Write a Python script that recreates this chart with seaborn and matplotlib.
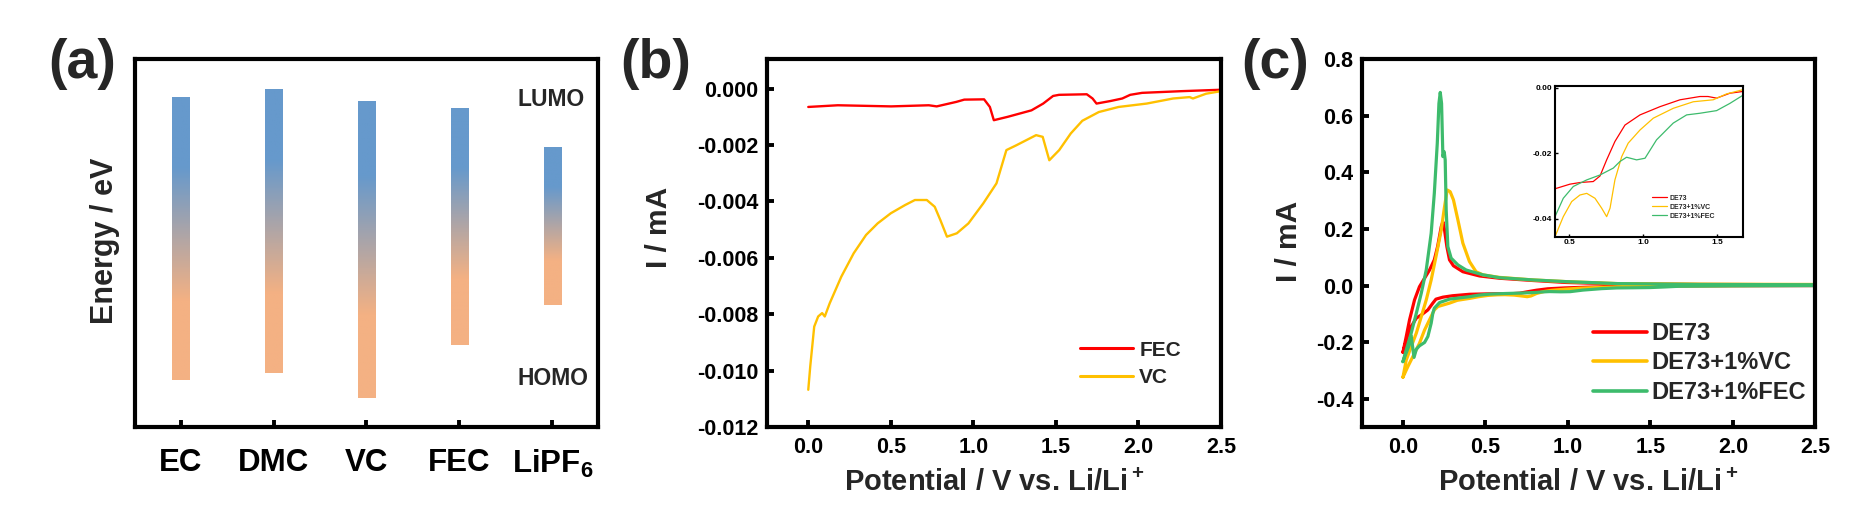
import numpy as np
import pandas as pd
import matplotlib
matplotlib.use('Agg')
import matplotlib.pyplot as plt
import seaborn as sns
from matplotlib.colors import LinearSegmentedColormap

sns.set_style('ticks')
plt.rcParams['font.family'] = ['Liberation Sans', 'DejaVu Sans']
plt.rcParams['font.weight'] = 'bold'
plt.rcParams['axes.labelweight'] = 'bold'
plt.rcParams['axes.edgecolor'] = 'black'
plt.rcParams['xtick.color'] = 'black'
plt.rcParams['ytick.color'] = 'black'
plt.rcParams['mathtext.fontset'] = 'custom'
plt.rcParams['mathtext.rm'] = 'Liberation Sans:bold'
plt.rcParams['mathtext.it'] = 'Liberation Sans:bold'
plt.rcParams['mathtext.bf'] = 'Liberation Sans:bold'
plt.rcParams['mathtext.default'] = 'rm'

# ---- (a) HOMO / LUMO levels (eV) ----
molecules = ['EC', 'DMC', 'VC', 'FEC', 'LiPF$_6$']
lumo = [1.67, 1.95, 1.53, 1.28, -0.10]
homo = [-8.34, -8.08, -8.97, -7.09, -5.68]

# ---- (b) LSV ----
fec_v = [0.0, 0.179, 0.502, 0.730, 0.778, 0.897, 0.945, 1.065, 1.10, 1.124, 1.208, 1.352, 1.423,
         1.483, 1.519, 1.687, 1.722, 1.746, 1.830, 1.902, 1.950, 2.022, 2.261, 2.5]
fec_i = [-0.00065, -0.00059, -0.00063, -0.00059, -0.00063, -0.00047, -0.00039, -0.00038, -0.00065,
         -0.00112, -0.00100, -0.00077, -0.00053, -0.00026, -0.00022, -0.00020, -0.00035, -0.00053,
         -0.00044, -0.00035, -0.00022, -0.00015, -0.00009, -0.00004]
vc_v = [0.0, 0.012, 0.036, 0.06, 0.084, 0.10, 0.13, 0.20, 0.275, 0.35, 0.42, 0.50, 0.586, 0.646,
        0.718, 0.766, 0.80, 0.84, 0.90, 0.97, 1.06, 1.14, 1.17, 1.20, 1.26, 1.38, 1.42, 1.46, 1.52,
        1.59, 1.66, 1.76, 1.88, 2.05, 2.21, 2.31, 2.33, 2.41, 2.5]
vc_i = [-0.01068, -0.00985, -0.00844, -0.00808, -0.00796, -0.00808, -0.00761, -0.00667, -0.00584,
        -0.00519, -0.00478, -0.00442, -0.00413, -0.00395, -0.00395, -0.00419, -0.00466, -0.00525,
        -0.00513, -0.00478, -0.00407, -0.00336, -0.00277, -0.00218, -0.00201, -0.00165, -0.00171,
        -0.00254, -0.00218, -0.00159, -0.00114, -0.00083, -0.00065, -0.00053, -0.00035, -0.00030,
        -0.00035, -0.00018, -0.00009]

# ---- (c) CV, anodic sweep then cathodic sweep ----
de73_v = [0.0, 0.02, 0.04, 0.07, 0.10, 0.131, 0.161, 0.19, 0.21, 0.232, 0.242, 0.252, 0.266, 0.282,
          0.306, 0.363, 0.464, 0.584, 0.786, 0.988, 1.28, 1.8, 2.5,
          2.5, 2.0, 1.67, 1.588, 1.498, 1.44, 1.385, 1.25, 1.114, 0.979, 0.877, 0.809, 0.753, 0.708,
          0.662, 0.572, 0.504, 0.403, 0.30, 0.242, 0.20, 0.181, 0.151, 0.111, 0.081, 0.05, 0.024, 0.0]
de73_i = [-0.236, -0.18, -0.121, -0.051, -0.004, 0.026, 0.055, 0.091, 0.138, 0.208, 0.226, 0.197,
          0.138, 0.091, 0.07, 0.049, 0.034, 0.026, 0.018, 0.011, 0.006, 0.004, 0.003,
          0.0, -0.0005, -0.0012, -0.0017, -0.0032, -0.0027, -0.0027, -0.0037, -0.0058, -0.0083,
          -0.0114, -0.0164, -0.022, -0.0269, -0.0286, -0.0289, -0.0294, -0.0308, -0.036, -0.041,
          -0.048, -0.062, -0.086, -0.104, -0.115, -0.145, -0.186, -0.236]
vc1_v = [0.0, 0.02, 0.05, 0.081, 0.111, 0.141, 0.171, 0.20, 0.232, 0.252, 0.268, 0.286, 0.306, 0.333,
         0.363, 0.403, 0.443, 0.484, 0.584, 0.786, 0.988, 1.3, 1.8, 2.5,
         2.5, 2.0, 1.67, 1.566, 1.475, 1.34, 1.204, 1.069, 0.979, 0.899, 0.855, 0.809, 0.776, 0.753,
         0.719, 0.674, 0.618, 0.572, 0.516, 0.459, 0.403, 0.33, 0.282, 0.212, 0.19, 0.161, 0.131,
         0.10, 0.06, 0.03, 0.0]
vc1_i = [-0.324, -0.263, -0.216, -0.168, -0.11, -0.051, 0.02, 0.102, 0.197, 0.279, 0.338, 0.332,
         0.303, 0.232, 0.15, 0.085, 0.049, 0.038, 0.029, 0.02, 0.014, 0.007, 0.005, 0.004,
         0.001, 0.0, -0.0007, -0.0019, -0.0037, -0.0043, -0.0063, -0.0093, -0.0129, -0.0169, -0.021,
         -0.0281, -0.0367, -0.0393, -0.0367, -0.0337, -0.0322, -0.0327, -0.0347, -0.0393, -0.0454,
         -0.052, -0.062, -0.074, -0.086, -0.121, -0.157, -0.204, -0.251, -0.286, -0.324]
fec1_v = [0.0, 0.02, 0.05, 0.081, 0.111, 0.141, 0.171, 0.19, 0.208, 0.218, 0.226, 0.234, 0.242, 0.25,
          0.256, 0.262, 0.272, 0.292, 0.333, 0.383, 0.484, 0.584, 0.786, 0.988, 1.3, 1.8, 2.5,
          2.5, 2.0, 1.67, 1.588, 1.498, 1.385, 1.295, 1.204, 1.091, 1.013, 0.956, 0.888, 0.843, 0.798,
          0.708, 0.618, 0.527, 0.459, 0.403, 0.35, 0.282, 0.222, 0.19, 0.181, 0.171, 0.151, 0.131,
          0.10, 0.081, 0.067, 0.05, 0.035, 0.015, 0.0]
fec1_i = [-0.269, -0.227, -0.168, -0.098, -0.027, 0.055, 0.185, 0.326, 0.503, 0.644, 0.683, 0.644,
          0.456, 0.473, 0.444, 0.267, 0.138, 0.097, 0.073, 0.055, 0.038, 0.028, 0.02, 0.014, 0.007,
          0.004, 0.003,
          0.0, -0.001, -0.0025, -0.0048, -0.007, -0.0078, -0.0083, -0.0108, -0.0159, -0.0215, -0.022,
          -0.0212, -0.0225, -0.0245, -0.0266, -0.0281, -0.0301, -0.0337, -0.0393, -0.043, -0.048,
          -0.06, -0.08, -0.098, -0.133, -0.18, -0.201, -0.213, -0.225, -0.254, -0.178, -0.215, -0.245,
          -0.269]

RED, YEL, GRN = '#FF0000', '#FFC000', '#3DBB6C'

fig = plt.figure(figsize=(18.63, 5.14), dpi=100)
ax_a = fig.add_axes([0.07246, 0.16926, 0.24853, 0.71537])
ax_b = fig.add_axes([0.41170, 0.16926, 0.24369, 0.71537])
ax_c = fig.add_axes([0.73092, 0.16926, 0.24358, 0.71537])
ax_in = fig.add_axes([0.83484, 0.5395, 0.10059, 0.29318])

for ax in (ax_a, ax_b, ax_c):
    for s in ax.spines.values():
        s.set_linewidth(3)
        s.set_color('black')
    ax.tick_params(direction='in', length=5, width=2.8, labelsize=15.5)
    ax.tick_params(axis='x', pad=7)
    ax.tick_params(axis='y', pad=6)

# (a)
hl_cmap = LinearSegmentedColormap.from_list(
    'hl', [(0, '#F4B183'), (0.28, '#F4B183'), (0.75, '#6699CC'), (1, '#6699CC')])
grad = np.linspace(0, 1, 256).reshape(-1, 1)
xpos = np.arange(len(molecules))
bars = ax_a.bar(xpos, np.array(lumo) - np.array(homo), bottom=homo, width=0.19,
                color='none', edgecolor='none')
for p, lo, hi in zip(bars.patches, homo, lumo):
    im = ax_a.imshow(grad, extent=[p.get_x(), p.get_x() + p.get_width(), lo, hi],
                     aspect='auto', cmap=hl_cmap, origin='lower', zorder=2)
    im.set_clip_path(p)
ax_a.set_xlim(-0.49, 4.49)
ax_a.set_ylim(-10, 3)
ax_a.set_xticks(xpos)
ax_a.set_xticklabels(molecules)
ax_a.tick_params(axis='x', labelsize=22.5, pad=15, length=5)
ax_a.set_yticks([])
ax_a.set_ylabel('Energy / eV', fontsize=22)
ax_a.yaxis.set_label_coords(-0.032, 0.506)
ax_a.text(0.827, 0.892, 'LUMO', transform=ax_a.transAxes, fontsize=16.5, ha='left', va='center')
ax_a.text(0.827, 0.133, 'HOMO', transform=ax_a.transAxes, fontsize=16.5, ha='left', va='center')

# (b)
sns.lineplot(x=fec_v, y=fec_i, sort=False, estimator=None, color=RED, lw=1.7, label='FEC', ax=ax_b)
sns.lineplot(x=vc_v, y=vc_i, sort=False, estimator=None, color=YEL, lw=1.7, label='VC', ax=ax_b)
ax_b.set_xlim(-0.25, 2.5)
ax_b.set_ylim(-0.012, 0.00104)
ax_b.set_xticks([0, 0.5, 1.0, 1.5, 2.0, 2.5])
ax_b.set_yticks(np.arange(-0.012, 0.0001, 0.002))
ax_b.yaxis.set_major_formatter(matplotlib.ticker.FormatStrFormatter('%.3f'))
ax_b.xaxis.set_major_formatter(matplotlib.ticker.FormatStrFormatter('%.1f'))
ax_b.set_xlabel('Potential / V vs. Li/Li$^+$', fontsize=21, labelpad=8)
ax_b.set_ylabel('I / mA', fontsize=21.5)
ax_b.yaxis.set_label_coords(-0.207, 0.543)
leg = ax_b.legend(loc='upper left', bbox_to_anchor=(0.689, 0.235), frameon=False, fontsize=15,
                  handlelength=2.55, handletextpad=0.3, labelspacing=0.42, borderpad=0,
                  borderaxespad=0)
for l in leg.get_lines():
    l.set_linewidth(2.2)

# (c)
for ax, lw in ((ax_c, 2.3), (ax_in, 0.9)):
    sns.lineplot(x=de73_v, y=de73_i, sort=False, estimator=None, color=RED, lw=lw, label='DE73', ax=ax)
    sns.lineplot(x=vc1_v, y=vc1_i, sort=False, estimator=None, color=YEL, lw=lw, label='DE73+1%VC', ax=ax)
    sns.lineplot(x=fec1_v, y=fec1_i, sort=False, estimator=None, color=GRN, lw=lw, label='DE73+1%FEC', ax=ax)
ax_c.set_xlim(-0.25, 2.5)
ax_c.set_ylim(-0.5, 0.8)
ax_c.set_xticks([0, 0.5, 1.0, 1.5, 2.0, 2.5])
ax_c.set_yticks([-0.4, -0.2, 0.0, 0.2, 0.4, 0.6, 0.8])
ax_c.yaxis.set_major_formatter(matplotlib.ticker.FormatStrFormatter('%.1f'))
ax_c.xaxis.set_major_formatter(matplotlib.ticker.FormatStrFormatter('%.1f'))
ax_c.set_xlabel('Potential / V vs. Li/Li$^+$', fontsize=21, labelpad=8)
ax_c.set_ylabel('I / mA', fontsize=21.5)
ax_c.yaxis.set_label_coords(-0.129, 0.504)
leg = ax_c.legend(loc='upper left', bbox_to_anchor=(0.509, 0.286), frameon=False, fontsize=17,
                  handlelength=2.29, handletextpad=0.21, labelspacing=0.28, borderpad=0,
                  borderaxespad=0)
for l in leg.get_lines():
    l.set_linewidth(2.6)

# inset
for s in ax_in.spines.values():
    s.set_linewidth(1.5)
    s.set_color('black')
ax_in.set_xlim(0.405, 1.675)
ax_in.set_ylim(-0.0454, 0.0005)
ax_in.set_xticks([0.5, 1.0, 1.5])
ax_in.set_yticks([-0.04, -0.02, 0.0])
ax_in.yaxis.set_major_formatter(matplotlib.ticker.FormatStrFormatter('%.2f'))
ax_in.xaxis.set_major_formatter(matplotlib.ticker.FormatStrFormatter('%.1f'))
ax_in.tick_params(direction='in', length=2, width=1, labelsize=6, pad=2)
ax_in.set_xlabel('')
ax_in.set_ylabel('')
leg = ax_in.legend(loc='upper left', bbox_to_anchor=(0.514, 0.28), frameon=False, fontsize=5,
                   handlelength=2.2, handletextpad=0.4, labelspacing=0.3, borderpad=0,
                   borderaxespad=0)

fig.text(48 / 1863, 0.848, '(a)', fontsize=40, va='baseline', ha='left')
fig.text(620 / 1863, 0.848, '(b)', fontsize=40, va='baseline', ha='left')
fig.text(1241.7 / 1863, 0.848, '(c)', fontsize=40, va='baseline', ha='left')

fig.savefig('out.png', dpi=100)
